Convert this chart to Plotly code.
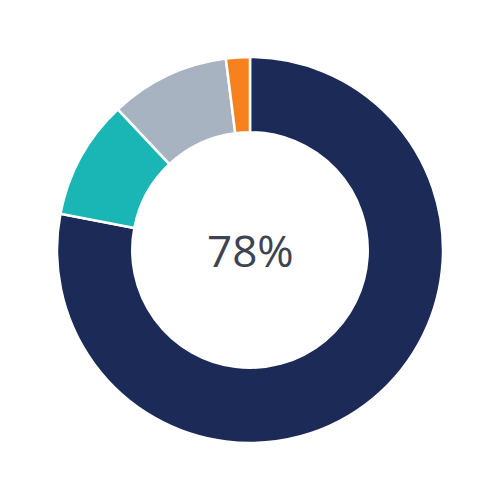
import plotly.graph_objects as go

labels = ["A", "B", "C", "D"]
values = [78, 10, 10, 2]
colors = ["#1b2a57", "#1ab5b5", "#a8b3c2", "#f5821f"]

fig = go.Figure(go.Pie(
    labels=labels, values=values, hole=0.61, sort=False, direction="clockwise",
    rotation=0, marker=dict(colors=colors, line=dict(color="white", width=2.5)),
    textinfo="none", hoverinfo="label+percent"))
fig.add_annotation(text="78%", x=0.5, y=0.5, xref="paper", yref="paper", showarrow=False,
                   font=dict(size=44, color="#3d4450", family="Open Sans"))
fig.update_layout(width=500, height=500, showlegend=False, paper_bgcolor="white",
                  margin=dict(l=49, r=65, t=49, b=65))
fig.write_html("out.html")
